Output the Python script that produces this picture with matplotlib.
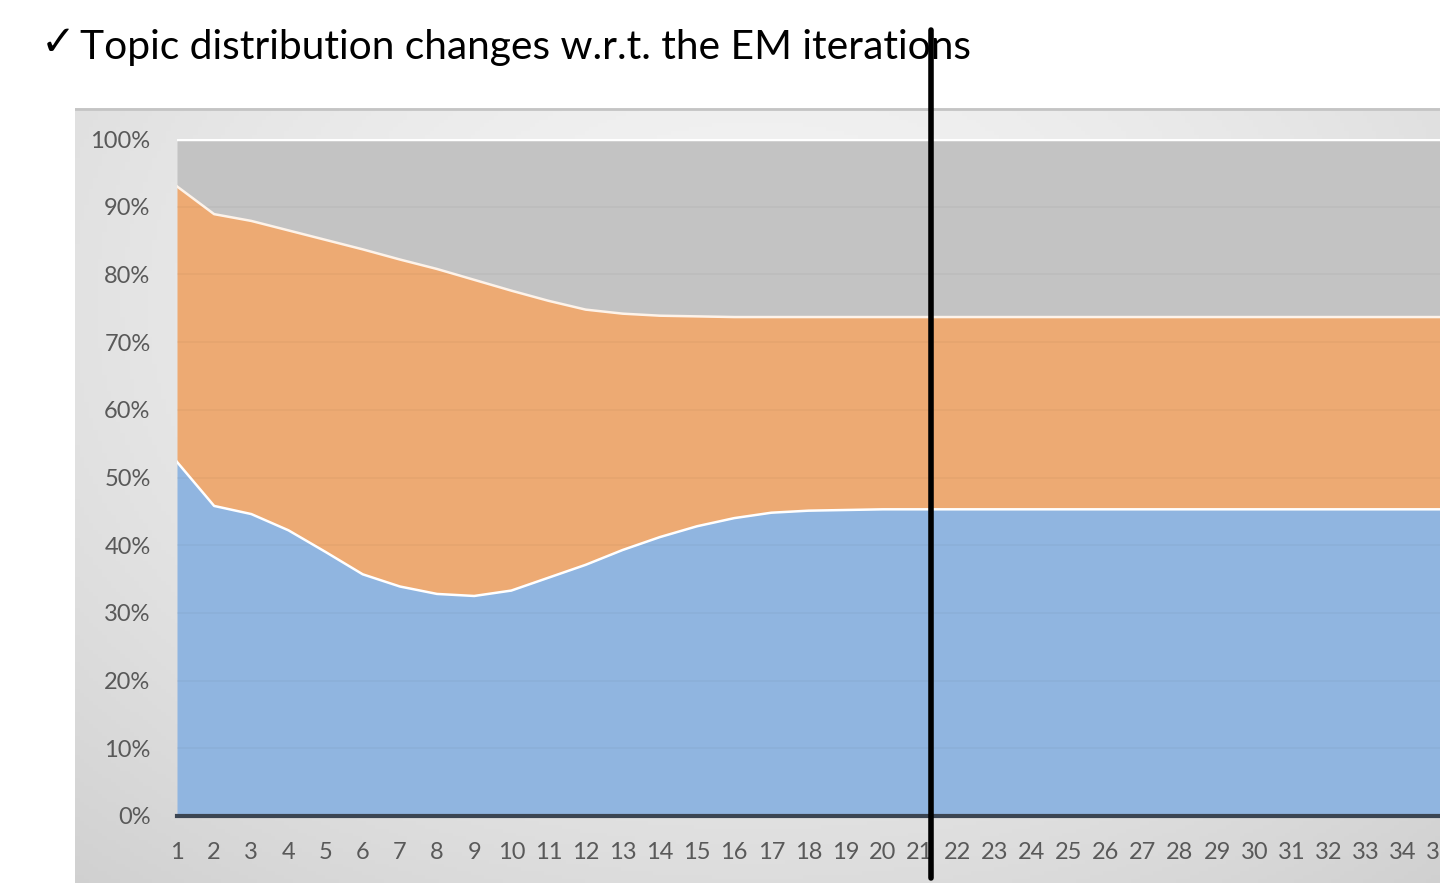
import matplotlib
matplotlib.use("Agg")
import matplotlib.pyplot as plt
import matplotlib.transforms as mtransforms
import numpy as np

# ---------------- data ----------------
iterations = list(range(1, 36))
topic1 = [52.3, 45.8, 44.6, 42.2, 39.0, 35.7, 33.9, 32.8, 32.5, 33.3,
          35.2, 37.1, 39.3, 41.2, 42.8, 44.0, 44.8, 45.1, 45.2] + [45.3] * 16
topic2 = [40.7, 43.1, 43.3, 44.3, 46.1, 48.0, 48.3, 48.0, 46.7, 44.3,
          40.9, 37.7, 34.9, 32.7, 31.0, 29.7, 28.9, 28.6, 28.5] + [28.4] * 16
topic3 = [7.0, 11.1, 12.1, 13.5, 14.9, 16.3, 17.8, 19.2, 20.8, 22.4,
          23.9, 25.2, 25.8, 26.1, 26.2] + [26.3] * 20
y_ticks = [0, 10, 20, 30, 40, 50, 60, 70, 80, 90, 100]
y_tick_labels = [f"{v}%" for v in y_ticks]
marker_iteration = 21.3
title_text = "Topic distribution changes w.r.t. the EM iterations"

# ---------------- figure ----------------
W, H = 1440, 883
fig = plt.figure(figsize=(W / 100, H / 100), dpi=100)
fig.patch.set_facecolor("white")

def fx(px):
    return px / W

def fy(py):
    return 1 - py / H

# chart area background (radial-ish gradient)
bg = fig.add_axes([fx(75), 0, 1 - fx(75), fy(108)])
bg.set_axis_off()
gx = np.linspace(0, 1, 300)
gy = np.linspace(0, 1, 200)
GX, GY = np.meshgrid(gx, gy)
d = np.sqrt(((GX - 0.5) / 0.75) ** 2 + ((GY - 0.25) / 0.95) ** 2)
val = 0.955 - 0.13 * np.clip(d, 0, 1.2) ** 1.6
img = np.dstack([val, val, val])
bg.imshow(img, extent=[0, 1, 0, 1], aspect="auto", origin="upper")
bg.set_xlim(0, 1)
bg.set_ylim(0, 1)
bg.plot([0, 1], [0.999, 0.999], color="#c4c4c4", lw=2, transform=bg.transAxes)

# plot axes
left_px, right_px, top_px, bottom_px = 177, 1440, 139, 816
ax = fig.add_axes([fx(left_px), fy(bottom_px), fx(right_px) - fx(left_px),
                   fy(top_px) - fy(bottom_px)])
ax.patch.set_alpha(0)

x = np.array(iterations)
t1 = np.array(topic1)
t2 = np.array(topic2)
t3 = np.array(topic3)
c1 = t1
c2 = t1 + t2
c3 = t1 + t2 + t3

col_blue = "#90b5e0"
col_orange = "#edaa73"
col_gray = "#c3c3c3"

ax.fill_between(x, 0, c1, color=col_blue, lw=0, zorder=1)
ax.fill_between(x, c1, c2, color=col_orange, lw=0, zorder=1)
ax.fill_between(x, c2, c3, color=col_gray, lw=0, zorder=1)

# gridlines (faint, visible through fills)
for v in y_ticks[1:]:
    ax.axhline(v, color=(0, 0, 0, 0.03), lw=1.2, zorder=2)

# white boundary lines
ax.plot(x, c1, color="white", lw=1.8, zorder=3, solid_joinstyle="round")
ax.plot(x, c2, color="#fdf3ea", lw=1.8, zorder=3, solid_joinstyle="round")
ax.plot(x, c3, color="white", lw=2.5, zorder=3)

ax.set_xlim(1, 35)
ax.set_ylim(0, 100)
ax.set_xticks(iterations)
ax.set_xticklabels([str(i) for i in iterations], fontsize=17,
                   family=["Lato", "DejaVu Sans"], color="#595959")
ax.set_yticks(y_ticks)
ax.set_yticklabels(y_tick_labels, fontsize=17,
                   family=["Lato", "DejaVu Sans"], color="#595959")
ax.tick_params(axis="both", length=0)
ax.tick_params(axis="y", pad=19)
ax.tick_params(axis="x", pad=19)
for s in ["top", "right", "left"]:
    ax.spines[s].set_visible(False)
ax.spines["bottom"].set_color("#3b4552")
ax.spines["bottom"].set_linewidth(3)
ax.spines["bottom"].set_zorder(4)

# vertical marker line
trans = mtransforms.blended_transform_factory(ax.transData, ax.transAxes)
y0 = (bottom_px - 878) / (bottom_px - top_px)
y1 = (bottom_px - 30) / (bottom_px - top_px)
ax.plot([marker_iteration, marker_iteration], [y0, y1], color="black", lw=4,
        transform=trans, clip_on=False, zorder=10, solid_capstyle="round")

# title
fig.text(fx(41), fy(55), "\u2713", fontsize=30, family=["DejaVu Sans"],
         va="baseline", ha="left", color="black")
fig.text(fx(80), fy(59), title_text, fontsize=29.3,
         family=["Lato", "DejaVu Sans"],
         va="baseline", ha="left", color="black")

fig.savefig("out.png", dpi=100)
